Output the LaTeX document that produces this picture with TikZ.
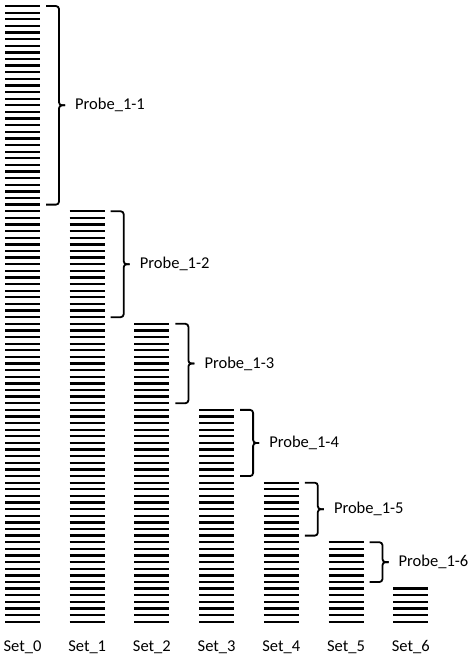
\documentclass[tikz,border=0pt]{standalone}
\usepackage{fontspec}
\setmainfont{Carlito}

\tikzset{
  rung/.style={line width=2.3pt},
  probe brace/.style={line width=1.8pt, rounded corners=3pt},
  setlabel/.style={font=\fontsize{16.5}{20}\selectfont, inner sep=0pt},
  probelabel/.style={font=\fontsize{16.5}{20}\selectfont, inner sep=0pt, anchor=west},
}

\begin{document}
\begin{tikzpicture}[x=1pt, y=-1pt, line join=round]

    \useasboundingbox (0,0) rectangle (474,659);

    % Columns 64.7 apart, rungs 35 long and 6.62 apart, lowest rung at y=621.7
    \def\pitch{64.7}
    \def\gap{6.62}
    \def\bottom{621.7}

    % Rungs of each set, Set_0 ... Set_6
    \foreach \n [count=\k from 0] in {94,63,46,33,22,13,6} {
        \pgfmathsetmacro{\xl}{5+\k*\pitch}
        \pgfmathtruncatemacro{\m}{\n-1}
        \foreach \i in {0,...,\m}
            \draw[rung] ({\xl}, {\bottom-\i*\gap}) -- ++(35,0);
        \node[setlabel] (set\k) at ({\xl+17.5}, 647) {Set\_\k};
    }

    % Braces: top rungs of Set_(k-1) that Set_k no longer has
    \foreach \a/\b [count=\k] in {94/63, 63/46, 46/33, 33/22, 22/13, 13/6} {
        \pgfmathsetmacro{\xr}{46+(\k-1)*\pitch}
        \pgfmathsetmacro{\top}{\bottom-(\a-1)*\gap}
        \pgfmathsetmacro{\bot}{\bottom-\b*\gap}
        \pgfmathsetmacro{\mid}{(\top+\bot)/2}
        \coordinate (tip\k) at ({\xr+19}, {\mid});
        \draw[probe brace] ({\xr}, {\top}) -| ({\xr+13}, {\mid}) -- (tip\k);
        \draw[probe brace] ({\xr}, {\bot}) -| ({\xr+13}, {\mid}) -- (tip\k);
        \node[probelabel] (probe\k) at ([xshift=10pt]tip\k) {Probe\_1-\k};
    }

\end{tikzpicture}
\end{document}
